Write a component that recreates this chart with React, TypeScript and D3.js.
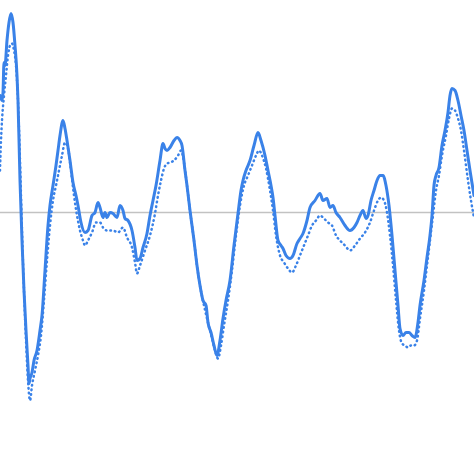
import React from "react";
import * as d3 from "d3";

// sample positions (time index) and amplitudes
const solidT = [0,2,3,4,5,7,9,11,13,15,17,18,20,22,24,26,28,29,30,32,34,37,40,42,45,48,50,53,56,58,60,63,65,67,70,73,76,78,81,85,88,92,95,98,100,103,105,107,110,113,117,120,123,125,128,132,135,137,140,143,147,150,153,156,160,163,165,167,170,174,177,180,182,185,187,190,194,197,200,203,206,208,211,214,217,220,223,226,230,234,238,241,243,246,250,254,258,261,265,268,271,273,275,278,281,283,286,290,293,297,300,303,307,310,315,320,323,327,330,333,336,340,345,350,354,357,360,363,366,368,371,374,377,380,383,386,389,392,395,398,400,403,406,409,412,415,418,420,424,427,430,432,434,436,439,442,445,448,450,452,455,458,461,464,467,470,474];
const solidV = [117,112,120,150,147,172,190,199,190,167,137,112,32,-28,-78,-118,-153,-171,-166,-160,-148,-138,-118,-103,-58,-13,7,27,47,62,77,92,84,72,52,30,17,7,-10,-20,-18,-3,0,10,5,-5,0,-5,0,-1,-5,7,2,-6,-8,-18,-35,-48,-46,-35,-21,-3,12,27,52,69,64,62,65,72,75,72,67,42,27,2,-28,-53,-73,-88,-93,-110,-120,-133,-143,-128,-106,-88,-68,-33,-1,22,32,42,52,67,80,72,57,42,27,15,-3,-28,-33,-36,-43,-46,-43,-31,-26,-21,-8,5,12,19,12,14,5,7,0,-5,-13,-18,-15,-10,-3,2,-6,-3,12,22,32,37,37,27,7,-23,-58,-93,-116,-123,-120,-120,-123,-125,-110,-93,-68,-45,-23,-3,27,37,45,67,82,100,117,124,122,112,97,82,62,42,17];

const dottedT = [0,1,2,4,6,8,10,12,14,16,18,20,22,24,26,28,30,32,35,38,41,44,47,50,53,56,59,62,65,68,71,74,77,80,83,85,88,92,96,100,103,107,113,118,123,127,132,135,137,140,145,150,155,158,161,164,167,170,174,178,181,184,187,190,194,197,200,204,208,212,215,218,221,224,228,232,236,240,244,248,252,256,259,262,266,270,273,276,280,284,288,292,296,300,304,308,312,316,320,324,328,332,336,340,345,350,355,360,365,370,374,378,381,384,387,390,393,396,399,402,405,408,411,414,417,420,424,427,430,433,436,439,442,446,449,452,455,458,461,464,468,471,474];
const dottedV = [42,72,92,117,137,157,167,169,162,147,112,52,-18,-78,-128,-168,-188,-173,-158,-143,-123,-88,-48,-13,12,27,42,57,70,64,42,17,-3,-18,-28,-33,-28,-20,-10,-10,-15,-18,-18,-20,-15,-25,-35,-50,-61,-53,-38,-23,-1,17,32,44,49,50,52,57,62,50,27,2,-28,-53,-73,-93,-110,-126,-138,-146,-133,-113,-88,-58,-23,7,27,37,47,57,62,57,44,22,2,-23,-43,-50,-56,-60,-53,-43,-33,-23,-13,-8,-3,-6,-10,-13,-23,-28,-33,-38,-33,-26,-20,-10,2,12,15,12,0,-23,-53,-88,-118,-131,-133,-135,-133,-133,-128,-106,-78,-53,-28,-3,22,37,57,77,94,104,102,94,82,62,32,12,-5];

const baseline = [0];

const W = 474;
const H = 474;

export default function App() {
  const x = d3.scaleLinear().domain([0, 474]).range([0, W]);
  const y = d3.scaleLinear().domain([212, -262]).range([0.5, H + 0.5]);

  const solid = solidT.map((t, i) => [t, solidV[i]] as [number, number]);
  const dotted = dottedT.map((t, i) => [t, dottedV[i]] as [number, number]);

  const line = d3
    .line<[number, number]>()
    .x((d) => x(d[0]))
    .y((d) => y(d[1]))
    .curve(d3.curveMonotoneX);

  const color = "#3a82e8";

  return (
    <svg
      width={W}
      height={H}
      style={{ position: "fixed", left: 0, top: 0, background: "#fff" }}
    >
      <rect x={0} y={0} width={W} height={H} fill="#fff" />
      {baseline.map((b) => (
        <line
          key={b}
          x1={0}
          x2={W}
          y1={y(b)}
          y2={y(b)}
          stroke="#c2c2c2"
          strokeWidth={1.5}
        />
      ))}
      <path
        d={line(dotted) || ""}
        fill="none"
        stroke={color}
        strokeWidth={2.5}
        strokeDasharray="0.6 4"
        strokeLinecap="round"
      />
      <path
        d={line(solid) || ""}
        fill="none"
        stroke={color}
        strokeWidth={3}
        strokeLinejoin="round"
        strokeLinecap="round"
      />
    </svg>
  );
}
